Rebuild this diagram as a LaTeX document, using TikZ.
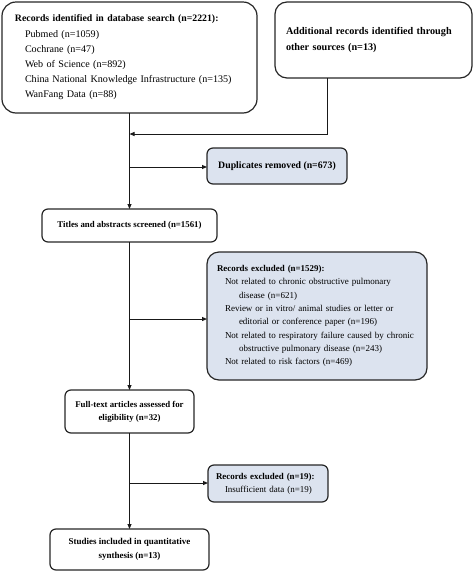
\documentclass[tikz,border=0pt]{standalone}
\usepackage{fontspec}
\setmainfont{Liberation Serif}
\usetikzlibrary{arrows.meta}
\definecolor{fillb}{HTML}{DCE3EF}
\tikzset{
  box/.style={draw=black!85, line width=1.2pt, rounded corners=6pt, anchor=north west, inner sep=0pt, outer sep=0pt},
  blue/.style={box, fill=fillb},
  conn/.style={line width=1pt, draw=black!90},
  arr/.style={conn, -{Triangle[length=5pt,width=4pt]}},
}
\begin{document}
\begin{tikzpicture}[x=1pt,y=-1pt]
\useasboundingbox (0,0) rectangle (474,571);
% boxes
\node[box, rounded corners=14pt, minimum width=255pt, minimum height=111pt, text width=229pt, align=left,
      font=\fontsize{10.1}{15.2}\selectfont] (src) at (2,2)
  {\textbf{\fontsize{9.8}{15.2}\selectfont Records identified in database search (n=2221):}\\
   \hspace*{10pt}Pubmed (n=1059)\\
   \hspace*{10pt}Cochrane (n=47)\\
   \hspace*{10pt}Web of Science (n=892)\\
   \hspace*{10pt}China National Knowledge Infrastructure (n=135)\\
   \hspace*{10pt}WanFang Data (n=88)};
\node[box, rounded corners=12pt, minimum width=197pt, minimum height=76pt, text width=175pt, align=left,
      font=\bfseries\fontsize{10.2}{16}\selectfont] (oth) at (275,2)
  {Additional records identified through\\other sources (n=13)};
\node[blue, minimum width=140pt, minimum height=36pt, align=center,
      font=\bfseries\fontsize{9.8}{12}\selectfont] (dup) at (207,148)
  {Duplicates removed (n=673)};
\node[box, minimum width=175pt, minimum height=33pt, align=center,
      font=\bfseries\fontsize{8.8}{11}\selectfont] (tit) at (42,209)
  {Titles and abstracts screened (n=1561)};
\node[blue, rounded corners=12pt, minimum width=220pt, minimum height=128pt, text width=200pt, align=left,
      font=\fontsize{9}{13.3}\selectfont] (ex1) at (207,252)
  {\textbf{\fontsize{8.9}{13.3}\selectfont Records excluded (n=1529):}\\
   \hspace*{8pt}Not related to chronic obstructive pulmonary\\
   \hspace*{22pt}disease (n=621)\\
   \hspace*{8pt}Review or in vitro/ animal studies or letter or\\
   \hspace*{22pt}editorial or conference paper (n=196)\\
   \hspace*{8pt}Not related to respiratory failure caused by chronic\\
   \hspace*{22pt}obstructive pulmonary disease (n=243)\\
   \hspace*{8pt}Not related to risk factors (n=469)};
\node[box, minimum width=129pt, minimum height=43pt, align=center,
      font=\bfseries\fontsize{8.8}{13}\selectfont] (ful) at (65,390)
  {Full-text articles assessed for\\eligibility (n=32)};
\node[blue, minimum width=120pt, minimum height=37pt, text width=104pt, align=left,
      font=\fontsize{9}{13}\selectfont] (ex2) at (208,465)
  {\textbf{\fontsize{8.9}{13}\selectfont Records excluded (n=19):}\\
   \hspace*{9pt}Insufficient data (n=19)};
\node[box, minimum width=159pt, minimum height=41pt, align=center,
      font=\bfseries\fontsize{9}{13.5}\selectfont] (stu) at (50,529)
  {Studies included in quantitative\\synthesis (n=13)};
% junctions
\coordinate (j1) at (129.5,134);
\coordinate (j2) at (129.5,167);
\coordinate (j3) at (129.5,319);
\coordinate (j4) at (129.5,483);
\coordinate (o1) at (327,78);
% connectors
\draw[arr] (src.south) -- (tit.north);
\draw[arr] (o1) |- (j1);
\draw[arr] (j2) -- (j2 -| dup.west);
\draw[arr] (tit.south) -- (ful.north);
\draw[arr] (j3) -- (j3 -| ex1.west);
\draw[arr] (ful.south) -- (stu.north);
\draw[arr] (j4) -- (j4 -| ex2.west);
\end{tikzpicture}
\end{document}
